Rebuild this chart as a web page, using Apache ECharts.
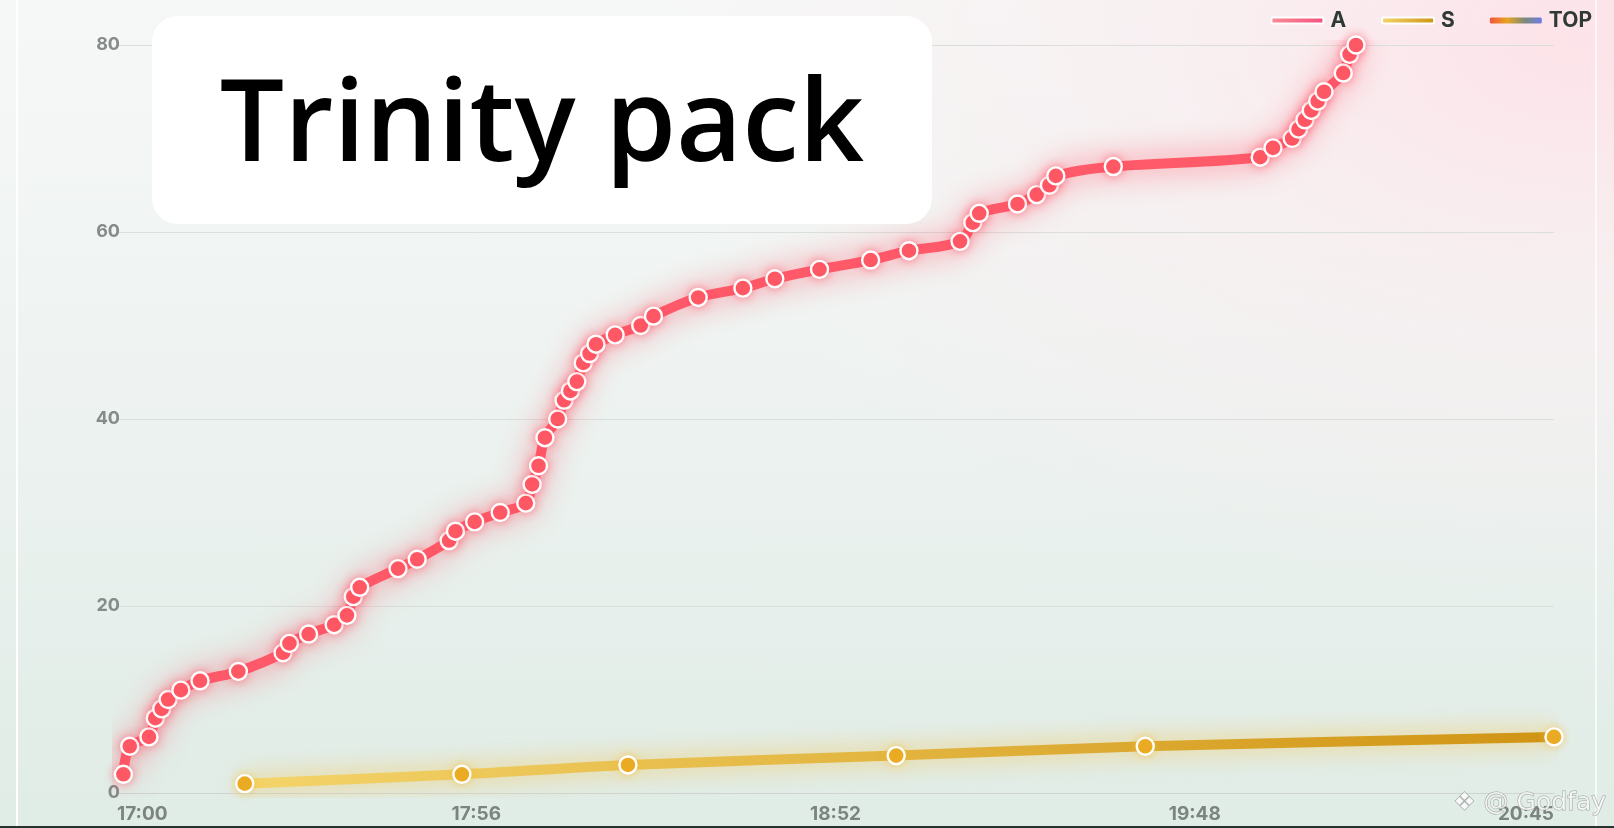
<!DOCTYPE html>
<html>
<head>
<meta charset="utf-8">
<script src="https://cdn.jsdelivr.net/npm/echarts@6/dist/echarts.min.js"></script>
<style>
html,body{margin:0;padding:0;width:1614px;height:828px;overflow:hidden;}
body{background:
 radial-gradient(ellipse 950px 560px at 1580px 40px, rgba(253,226,232,0.95) 0%, rgba(250,236,239,0.6) 45%, rgba(245,245,244,0) 100%),
 linear-gradient(180deg, #f6f8f7 0%, #eef3f1 45%, #e0ece6 100%);}
#c{width:1614px;height:828px;}
</style>
</head>
<body>
<div id="c"></div>
<script>
const categoriesA = ['17:01','17:02','17:05','17:06','17:07','17:08','17:10','17:13','17:19','17:26','17:27','17:30','17:34','17:36','17:37','17:38','17:44','17:47','17:52','17:53','17:56','18:00','18:04','18:05','18:06','18:07','18:09','18:10','18:11','18:12','18:13','18:14','18:15','18:18','18:22','18:24','18:31','18:38','18:43','18:50','18:58','19:04','19:12','19:14','19:15','19:21','19:24','19:26','19:27','19:36','19:59','20:01','20:04','20:05','20:06','20:07','20:08','20:09','20:12','20:13','20:14'];
const valuesA = [2,5,6,8,9,10,11,12,13,15,16,17,18,19,21,22,24,25,27,28,29,30,31,33,35,38,40,42,43,44,46,47,48,49,50,51,53,54,55,56,57,58,59,61,62,63,64,65,66,67,68,69,70,71,72,73,74,75,77,79,80];
const categoriesS = ['17:20','17:54','18:20','19:02','19:41','20:45'];
const valuesS = [1,2,3,4,5,6];
const valuesTOP = [];
const xTickLabels = ['17:00','17:56','18:52','19:48','20:45'];
const yTickLabels = ['0','20','40','60','80'];
const seriesNames = ['A','S','TOP'];

function toMin(t){const p=t.split(':');return (parseInt(p[0])-17)*60+parseInt(p[1]);}
const dataA = categoriesA.map((t,i)=>[toMin(t),valuesA[i]]);
const dataS = categoriesS.map((t,i)=>[toMin(t),valuesS[i]]);

const grad = (stops)=>new echarts.graphic.LinearGradient(0,0,1,0,stops.map((c,i)=>({offset:i/(stops.length-1),color:c})));
const gA = ()=>grad(['#f98c95','#f5527e']);
const gS = ()=>grad(['#f4d46a','#d09414']);
const gT = ()=>grad(['#f2543a','#e8a523','#7c8a78','#6f7de8']);

const chart = echarts.init(document.getElementById('c'));
chart.setOption({
  animation:false,
  backgroundColor:'transparent',
  grid:{left:117,right:60,top:45,bottom:35,containLabel:false},
  legend:{
    right:17,top:5,itemWidth:52,itemHeight:6,itemGap:35,icon:'roundRect',
    textStyle:{fontFamily:'Inter',fontWeight:700,fontSize:21,color:'#2f3935',padding:[0,0,0,2]},
    data:[
      {name:'A',itemStyle:{color:gA()}},
      {name:'S',itemStyle:{color:gS()}},
      {name:'TOP',itemStyle:{color:gT()}}
    ]
  },
  xAxis:{
    type:'value',min:0,max:225,interval:56.25,
    axisLine:{show:true,lineStyle:{color:'#cfd4d1',width:1}},
    axisTick:{show:false},splitLine:{show:false},
    axisLabel:{formatter:(v,i)=>xTickLabels[i],fontFamily:'Inter',fontWeight:700,fontSize:19,color:'#7c8480',margin:12,alignMinLabel:'left',alignMaxLabel:'right'}
  },
  yAxis:{
    type:'value',min:0,max:80,interval:20,
    axisLine:{show:false},axisTick:{show:false},
    splitLine:{lineStyle:{color:'#dadfdc',width:1}},
    axisLabel:{formatter:(v,i)=>yTickLabels[i],fontFamily:'Inter',fontWeight:700,fontSize:18,color:'#858b88',margin:-3}
  },
  series:[
    {name:seriesNames[0],type:'line',data:dataA,smooth:0.35,
     symbol:'circle',symbolSize:17,
     lineStyle:{width:10,color:'#ff5a6a',shadowBlur:30,shadowColor:'rgba(255,80,100,0.85)'},
     itemStyle:{color:'#ff5a66',borderColor:'#ffffff',borderWidth:2.4,shadowBlur:10,shadowColor:'rgba(255,80,100,0.6)'},
     z:3},
    {name:seriesNames[1],type:'line',data:dataS,smooth:0.3,
     symbol:'circle',symbolSize:17,
     lineStyle:{width:10,color:gS(),shadowBlur:26,shadowColor:'rgba(245,190,60,0.8)'},
     itemStyle:{color:'#e9a820',borderColor:'#ffffff',borderWidth:2.4,shadowBlur:8,shadowColor:'rgba(245,190,60,0.6)'},
     z:2},
    {name:seriesNames[2],type:'line',data:valuesTOP,itemStyle:{color:'#6f7de8'}}
  ],
  graphic:[
    {type:'rect',left:16,top:0,shape:{width:2,height:828},style:{fill:'#ffffff'},z:10},
    {type:'rect',left:1595,top:0,shape:{width:2,height:828},style:{fill:'rgba(255,255,255,0.7)'},z:10},
    {type:'rect',left:0,top:826,shape:{width:1614,height:2},style:{fill:'#2a3230'},z:10},
    {type:'rect',left:152,top:16,shape:{width:780,height:208,r:26},style:{fill:'#ffffff'},z:20},
    {type:'text',x:542,y:129,style:{text:'Trinity pack',fontFamily:'Open Sans',fontWeight:600,fontSize:114,fill:'#000000',align:'center',verticalAlign:'middle'},z:21},
    {type:'text',x:1606,y:803,style:{text:'❖ @ Godfay',fontFamily:'DejaVu Sans',fontSize:25,fill:'rgba(255,255,255,0.75)',stroke:'rgba(140,146,143,0.8)',lineWidth:1,align:'right',verticalAlign:'middle'},z:30}
  ]
});
</script>
</body>
</html>
